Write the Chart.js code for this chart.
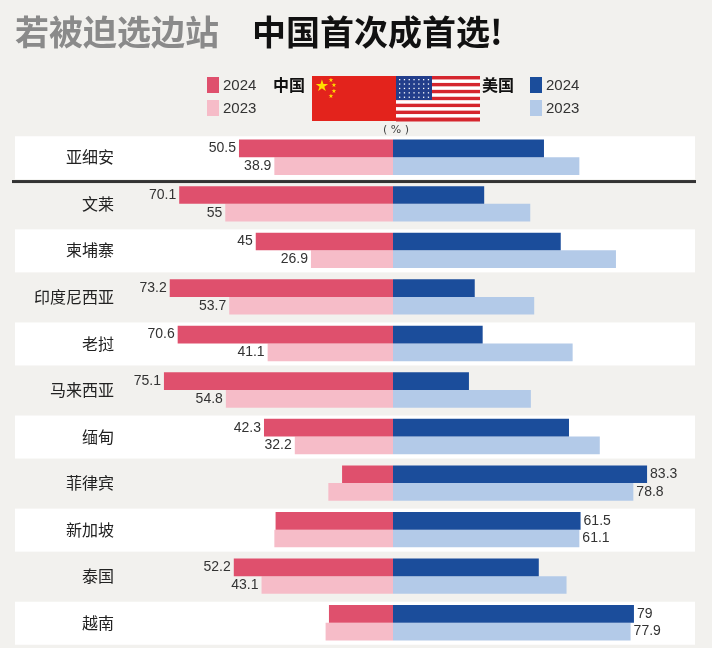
<!DOCTYPE html>
<html>
<head>
<meta charset="utf-8">
<script src="https://cdn.jsdelivr.net/npm/chart.js@4"></script>
<style>
  body { margin: 0; background: #f2f1ee; }
  #wrap { position: relative; width: 712px; height: 648px; }
</style>
</head>
<body>
<div id="wrap"><canvas id="c" width="712" height="648"></canvas></div>
<script>
var categories = ['亚细安', '文莱', '柬埔寨', '印度尼西亚', '老挝', '马来西亚', '缅甸', '菲律宾', '新加坡', '泰国', '越南'];
var china2024 = [50.5, 70.1, 45, 73.2, 70.6, 75.1, 42.3, 16.7, 38.5, 52.2, 21];
var china2023 = [38.9, 55, 26.9, 53.7, 41.1, 54.8, 32.2, 21.2, 38.9, 43.1, 22.1];
var us2024 = [49.5, 29.9, 55, 26.8, 29.4, 24.9, 57.7, 83.3, 61.5, 47.8, 79];
var us2023 = [61.1, 45, 73.1, 46.3, 58.9, 45.2, 67.8, 78.8, 61.1, 56.9, 77.9];
// which side carries the printed values
var labelSide = ['cn', 'cn', 'cn', 'cn', 'cn', 'cn', 'cn', 'us', 'us', 'cn', 'us'];

var colors = { cn24: '#df506d', cn23: '#f6bcc8', us24: '#1b4d9b', us23: '#b3cae8' };
var numFont = '14px "Liberation Sans Narrow", "Liberation Sans", Arial, sans-serif';

function drawFlags(ctx) {
    ctx.save();
    // China flag
    ctx.fillStyle = '#e3231c';
    ctx.fillRect(312, 76, 84, 45);
    ctx.fillStyle = '#ffde00';
    ctx.font = '16px "DejaVu Sans"';
    ctx.textAlign = 'center';
    ctx.textBaseline = 'middle';
    ctx.fillText('★', 322, 87);
    ctx.font = '6px "DejaVu Sans"';
    ctx.fillText('★', 331, 80); ctx.fillText('★', 334, 85);
    ctx.fillText('★', 334, 91); ctx.fillText('★', 331, 96);
    // US flag
    for (var i = 0; i < 13; i++) {
        ctx.fillStyle = i % 2 === 0 ? '#d5262e' : '#ffffff';
        ctx.fillRect(396, 76 + i * 45 / 13, 84, 45 / 13 + 0.5);
    }
    ctx.fillStyle = '#233e8b';
    ctx.fillRect(396, 76, 36, 24);
    ctx.fillStyle = '#fff';
    for (var r = 0; r < 5; r++) {
        for (var k = 0; k < 7; k++) {
            ctx.fillRect(399 + k * 4.8, 79 + r * 4.4, 1.3, 1.3);
        }
    }
    ctx.restore();
}

var decor = {
    id: 'decor',
    beforeDatasetsDraw: function(chart) {
        var ctx = chart.ctx, y = chart.scales.y;
        ctx.save();
        categories.forEach(function(c, i) {
            if (i % 2 === 0) {
                var yc = y.getPixelForValue(i);
                ctx.fillStyle = '#ffffff';
                ctx.fillRect(15, yc - 21, 680, 43);
            }
        });
        ctx.restore();
    },
    afterDatasetsDraw: function(chart) {
        var ctx = chart.ctx, y = chart.scales.y;
        ctx.save();
        // separator
        var ySep = (y.getPixelForValue(0) + y.getPixelForValue(1)) / 2 + 1;
        ctx.fillStyle = '#333';
        ctx.fillRect(12, ySep - 1.5, 684, 3);
        // category labels
        ctx.fillStyle = '#222';
        ctx.font = '16px "Noto Sans CJK SC"';
        ctx.textAlign = 'right';
        ctx.textBaseline = 'middle';
        categories.forEach(function(c, i) {
            ctx.fillText(c, 114, y.getPixelForValue(i));
        });
        // value labels
        ctx.font = numFont;
        ctx.fillStyle = '#333';
        [[0, china2024, 'cn'], [1, china2023, 'cn'], [2, us2024, 'us'], [3, us2023, 'us']].forEach(function(d) {
            var meta = chart.getDatasetMeta(d[0]);
            var dir = d[2] === 'cn' ? -1 : 1;
            meta.data.forEach(function(bar, i) {
                if (labelSide[i] !== d[2]) return;
                ctx.textAlign = dir < 0 ? 'right' : 'left';
                ctx.fillText(String(d[1][i]), bar.x + dir * 3, bar.y);
            });
        });
        // title
        ctx.textAlign = 'left';
        ctx.textBaseline = 'alphabetic';
        ctx.font = 'bold 34px "Noto Sans CJK SC"';
        ctx.fillStyle = '#8a8a8a';
        ctx.fillText('若被迫选边站', 15, 45);
        ctx.fillStyle = '#111';
        ctx.fillText('中国首次成首选!', 252, 45);
        // legend
        drawFlags(ctx);
        ctx.fillStyle = colors.cn24; ctx.fillRect(207, 77, 12, 16);
        ctx.fillStyle = colors.cn23; ctx.fillRect(207, 100, 12, 16);
        ctx.fillStyle = colors.us24; ctx.fillRect(530, 77, 12, 16);
        ctx.fillStyle = colors.us23; ctx.fillRect(530, 100, 12, 16);
        ctx.fillStyle = '#333';
        ctx.textAlign = 'left';
        ctx.textBaseline = 'middle';
        ctx.font = '15px "Liberation Sans", Arial, sans-serif';
        ctx.fillText('2024', 223, 86); ctx.fillText('2023', 223, 109);
        ctx.fillText('2024', 546, 86); ctx.fillText('2023', 546, 109);
        ctx.font = 'bold 16px "Noto Sans CJK SC"';
        ctx.fillStyle = '#111';
        ctx.fillText('中国', 273, 85);
        ctx.fillText('美国', 482, 85);
        ctx.font = '11px "DejaVu Sans"';
        ctx.textAlign = 'center';
        ctx.fillStyle = '#444';
        ctx.fillText('( % )', 396, 130);
        ctx.restore();
    }
};

new Chart(document.getElementById('c'), {
    type: 'bar',
    data: {
        labels: categories,
        datasets: [
            { label: '中国 2024', data: china2024.map(function(v) { return -v; }), backgroundColor: colors.cn24, stack: 'a' },
            { label: '中国 2023', data: china2023.map(function(v) { return -v; }), backgroundColor: colors.cn23, stack: 'b' },
            { label: '美国 2024', data: us2024, backgroundColor: colors.us24, stack: 'a' },
            { label: '美国 2023', data: us2023, backgroundColor: colors.us23, stack: 'b' }
        ]
    },
    options: {
        indexAxis: 'y',
        responsive: false,
        animation: false,
        layout: { padding: { left: 88, right: 14, top: 134, bottom: 2 } },
        categoryPercentage: 0.76,
        barPercentage: 1,
        scales: {
            x: { display: false, stacked: true, min: -100, max: 100 },
            y: { display: false, stacked: true }
        },
        plugins: { legend: { display: false }, tooltip: { enabled: false } }
    },
    plugins: [decor]
});
</script>
</body>
</html>
